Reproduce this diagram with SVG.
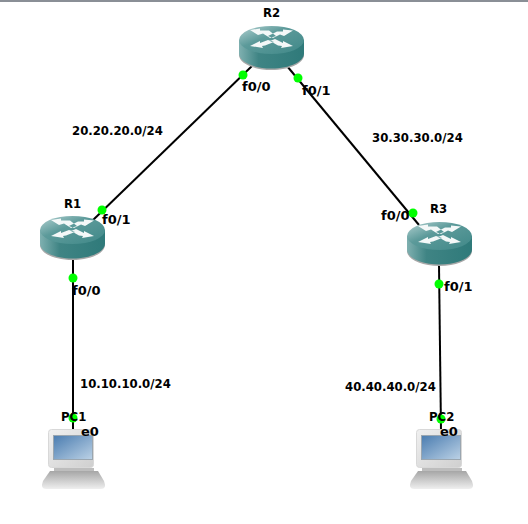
<svg xmlns="http://www.w3.org/2000/svg" width="528" height="524" viewBox="0 0 528 524">
<style>
text{font-family:"DejaVu Sans",Verdana,sans-serif;font-size:11.700px;font-weight:bold;fill:#000}
.if{font-size:13px}
.link{stroke:#000;stroke-width:2;fill:none}
.dot{fill:#00ff00}
</style>
<defs>
<linearGradient id="top" x1="0" y1="0" x2="1" y2="1"><stop offset="0" stop-color="#b4d2d2"/><stop offset=".4" stop-color="#5c9a9a"/><stop offset="1" stop-color="#3f8888"/></linearGradient>
<linearGradient id="side" x1="0" y1="0" x2="1" y2="0"><stop offset="0" stop-color="#7fb0b0"/><stop offset=".3" stop-color="#3f8484"/><stop offset="1" stop-color="#2f7a7a"/></linearGradient>
<linearGradient id="base" x1="0" y1="0" x2="0" y2="1"><stop offset="0" stop-color="#a6a6a6"/><stop offset="1" stop-color="#efefef"/></linearGradient>
<linearGradient id="screen" x1="0" y1="0" x2="1" y2="1"><stop offset="0" stop-color="#4a7cb0"/><stop offset="1" stop-color="#bcd2e6"/></linearGradient>
<linearGradient id="case" x1="0" y1="0" x2="1" y2="1"><stop offset="0" stop-color="#f0f0f0"/><stop offset="1" stop-color="#cfcfcf"/></linearGradient>
<g id="router">
<path d="M0 15V29C0 37 14 44 32.500 44S65 37 65 29V15Z" fill="#a8a8a8"/>
<path d="M0 14V27.500C0 35.500 14 42.500 32.500 42.500S65 35.500 65 27.500V14Z" fill="url(#side)"/>
<ellipse cx="32.500" cy="14" rx="32.500" ry="14" fill="url(#top)"/>
<path d="M11 4L21 2.500L21 4.500L30 4.500L37 10L31 12L24 7.500L19 9Z M54 4.500L44 3.500L44 5.500L38 5.500L29 10L34 12L41 8.500L45 10Z M11 20L21 15L21 17L29 14L35 16L26 19.500L23 20L24 22Z M54 20L44 15L44 17L36 13L31 15L39 19.500L43 20L42 22Z" fill="#f4f8f8"/>
</g>
<g id="pc">
<path d="M9 42H57L63 52Q66 60 60 60H5Q-1 60 2 52Z" fill="url(#base)"/>
<rect x="7.500" y="0.500" width="45" height="38" rx="3" fill="url(#case)" stroke="#d8d8d8"/>
<rect x="12.500" y="6.500" width="39" height="24" fill="url(#screen)" stroke="#9aa6b0"/>
<rect x="13" y="39" width="40" height="3" fill="#bdbdbd"/>
</g>
</defs>
<rect x="0" y="0" width="528" height="2" fill="#8a8f96"/>
<g id="connectors">
<line class="link" x1="252" y1="66" x2="92" y2="221"/>
<line class="link" x1="287" y1="66" x2="419" y2="225"/>
<line class="link" x1="73" y1="259" x2="73" y2="431"/>
<line class="link" x1="439" y1="265" x2="441" y2="431"/>
</g>
<g id="R2"><use href="#router" x="239" y="26"/></g>
<g id="R1"><use href="#router" x="40" y="216"/></g>
<g id="R3"><use href="#router" x="407" y="222"/></g>
<g id="PC1"><use href="#pc" x="41" y="429"/></g>
<g id="PC2"><use href="#pc" x="409" y="429"/></g>
<g id="ports">
<circle class="dot" cx="243" cy="75" r="4.500"/><circle class="dot" cx="298" cy="78" r="4.500"/>
<circle class="dot" cx="102" cy="210" r="4.500"/><circle class="dot" cx="73" cy="278" r="4.500"/>
<circle class="dot" cx="413" cy="213" r="4.500"/><circle class="dot" cx="439" cy="284" r="4.500"/>
<circle class="dot" cx="73" cy="418" r="4.500"/><circle class="dot" cx="441" cy="419" r="4.500"/>
</g>
<g id="labels">
<text x="263" y="17">R2</text><text x="64" y="208">R1</text><text x="430" y="213">R3</text>
<text x="61" y="421">PC1</text><text x="429" y="421">PC2</text>
<text class="if" x="242" y="91">f0/0</text><text class="if" x="302" y="95">f0/1</text>
<text class="if" x="102" y="224">f0/1</text><text class="if" x="72" y="295">f0/0</text>
<text class="if" x="381" y="220">f0/0</text><text class="if" x="444" y="291">f0/1</text>
<text class="if" x="81" y="436">e0</text><text class="if" x="440" y="436">e0</text>
<text x="72" y="135">20.20.20.0/24</text><text x="372" y="142">30.30.30.0/24</text>
<text x="80" y="388">10.10.10.0/24</text><text x="345" y="391">40.40.40.0/24</text>
</g>
</svg>
